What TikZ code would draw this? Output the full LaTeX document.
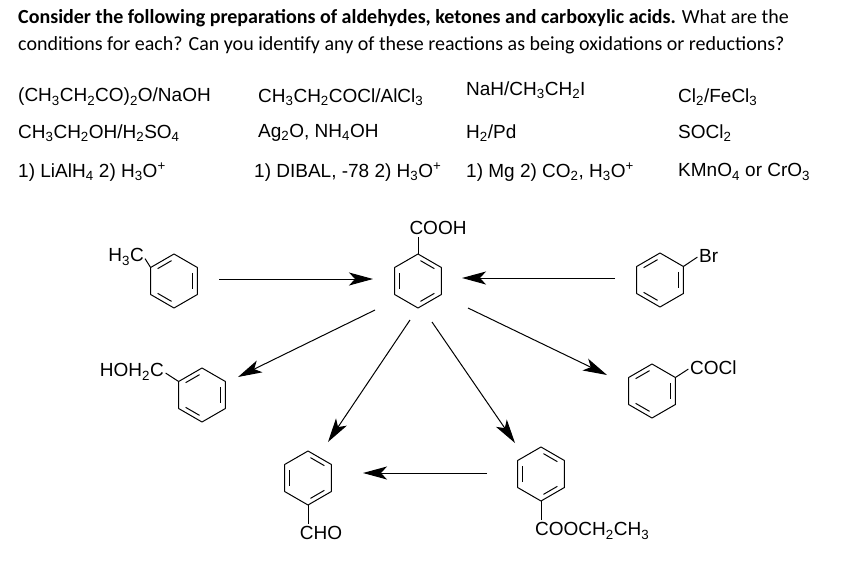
\documentclass[tikz,border=0pt]{standalone}
\usepackage{fontspec}
\setmainfont{Liberation Sans}
\newfontfamily\titlefont{Carlito}
\usetikzlibrary{arrows.meta}
\newcommand{\sbs}[1]{\textsubscript{#1}}
\newcommand{\sps}[1]{\textsuperscript{#1}}
% ring: centre, list of doubled edges (0 = top right, going clockwise)
\newcommand{\ring}[2]{%
  \draw[bond] (#1) +(90:27pt) -- +(30:27pt) -- +(-30:27pt) -- +(-90:27pt) -- +(-150:27pt) -- +(150:27pt) -- cycle;
  \foreach \e in {#2} {
    \draw[bond] (#1) +(60-60*\e+23:20.5pt) -- +(60-60*\e-23:20.5pt);
  }%
}
\begin{document}
\begin{tikzpicture}[x=1pt, y=-1pt,
  bond/.style={line width=1pt, line join=round},
  sub/.style={bond, shorten >=2pt},
  rxn/.style={line width=1pt, -{Stealth[length=24pt, width=13pt, inset=6pt]}},
  chem/.style={font=\fontsize{19}{22}\selectfont, inner sep=0pt},
  cond/.style={font=\fontsize{19}{22}\selectfont, anchor=west, inner sep=0pt},
  title/.style={font=\titlefont\fontsize{20}{23}\selectfont, anchor=west, inner sep=0pt}]
\useasboundingbox (0,0) rectangle (867,568);
% question
\node[title] (q1) at (18,18) {\textbf{Consider the following preparations of aldehydes, ketones and carboxylic acids.} What are the};
\node[title] (q2) at (18,45) {conditions for each? Can you identify any of these reactions as being oxidations or reductions?};
% conditions
\node[cond] (c11) at (18,97) {(CH\sbs{3}CH\sbs{2}CO)\sbs{2}O/NaOH};
\node[cond] (c12) at (258,97) {CH\sbs{3}CH\sbs{2}COCl/AlCl\sbs{3}};
\node[cond] (c13) at (466,90) {NaH/CH\sbs{3}CH\sbs{2}I};
\node[cond] (c14) at (678,97) {Cl\sbs{2}/FeCl\sbs{3}};
\node[cond] (c21) at (18,133) {CH\sbs{3}CH\sbs{2}OH/H\sbs{2}SO\sbs{4}};
\node[cond] (c22) at (258,133) {Ag\sbs{2}O, NH\sbs{4}OH};
\node[cond] (c23) at (466,133) {H\sbs{2}/Pd};
\node[cond] (c24) at (678,133) {SOCl\sbs{2}};
\node[cond] (c31) at (18,172) {1) LiAlH\sbs{4} 2) H\sbs{3}O\sps{+}};
\node[cond] (c32) at (254,172) {1) DIBAL, -78 2) H\sbs{3}O\sps{+}};
\node[cond] (c33) at (466,172) {1) Mg 2) CO\sbs{2}, H\sbs{3}O\sps{+}};
\node[cond] (c34) at (678,172) {KMnO\sbs{4} or CrO\sbs{3}};
% rings
\coordinate (tol) at (174,281);
\coordinate (acid) at (418,281);
\coordinate (brb) at (660,280);
\coordinate (benzyl) at (202,395);
\coordinate (acyl) at (652,391);
\coordinate (ald) at (308,478);
\coordinate (ester) at (541,474);
\ring{tol}{1,3,5}
\ring{acid}{0,2,4}
\ring{brb}{1,3,5}
\ring{benzyl}{1,3,5}
\ring{acyl}{1,3,5}
\ring{ald}{0,2,4}
\ring{ester}{0,2,4}
% substituents
\node[chem, anchor=east] (me) at (144,257) {H\sbs{3}C};
\draw[sub] (tol) +(150:27pt) -- (me.east);
\node[chem] (cooh) at (438,228) {COOH};
\draw[sub] (acid) +(90:27pt) -- (cooh.south -| acid);
\node[chem, anchor=west] (br) at (699,256) {Br};
\draw[sub] (brb) +(30:27pt) -- (br.west);
\node[chem, anchor=east] (ch2oh) at (164,372) {HOH\sbs{2}C};
\draw[sub] (benzyl) +(150:27pt) -- (ch2oh.east);
\node[chem, anchor=west] (cocl) at (690,368) {COCl};
\draw[sub] (acyl) +(30:27pt) -- (cocl.west);
\node[chem] (cho) at (321,533) {CHO};
\draw[sub] (ald) +(-90:27pt) -- (cho.north -| ald);
\node[chem, anchor=west] (coet) at (535,531) {COOCH\sbs{2}CH\sbs{3}};
\draw[sub] (ester) +(-90:27pt) -- (coet.north -| ester);
% reaction arrows
\coordinate (a1s) at (219,279); \coordinate (a1e) at (373,279);
\coordinate (a2s) at (615,278); \coordinate (a2e) at (462,278);
\coordinate (a3s) at (375,310); \coordinate (a3e) at (238,377);
\coordinate (a4s) at (410,320); \coordinate (a4e) at (328,442);
\coordinate (a5s) at (432,322); \coordinate (a5e) at (515,443);
\coordinate (a6s) at (468,308); \coordinate (a6e) at (607,375);
\coordinate (a7s) at (487,473); \coordinate (a7e) at (363,473);
\foreach \a in {a1,a2,a3,a4,a5,a6,a7}
  \draw[rxn] (\a s) -- (\a e);
\end{tikzpicture}
\end{document}
